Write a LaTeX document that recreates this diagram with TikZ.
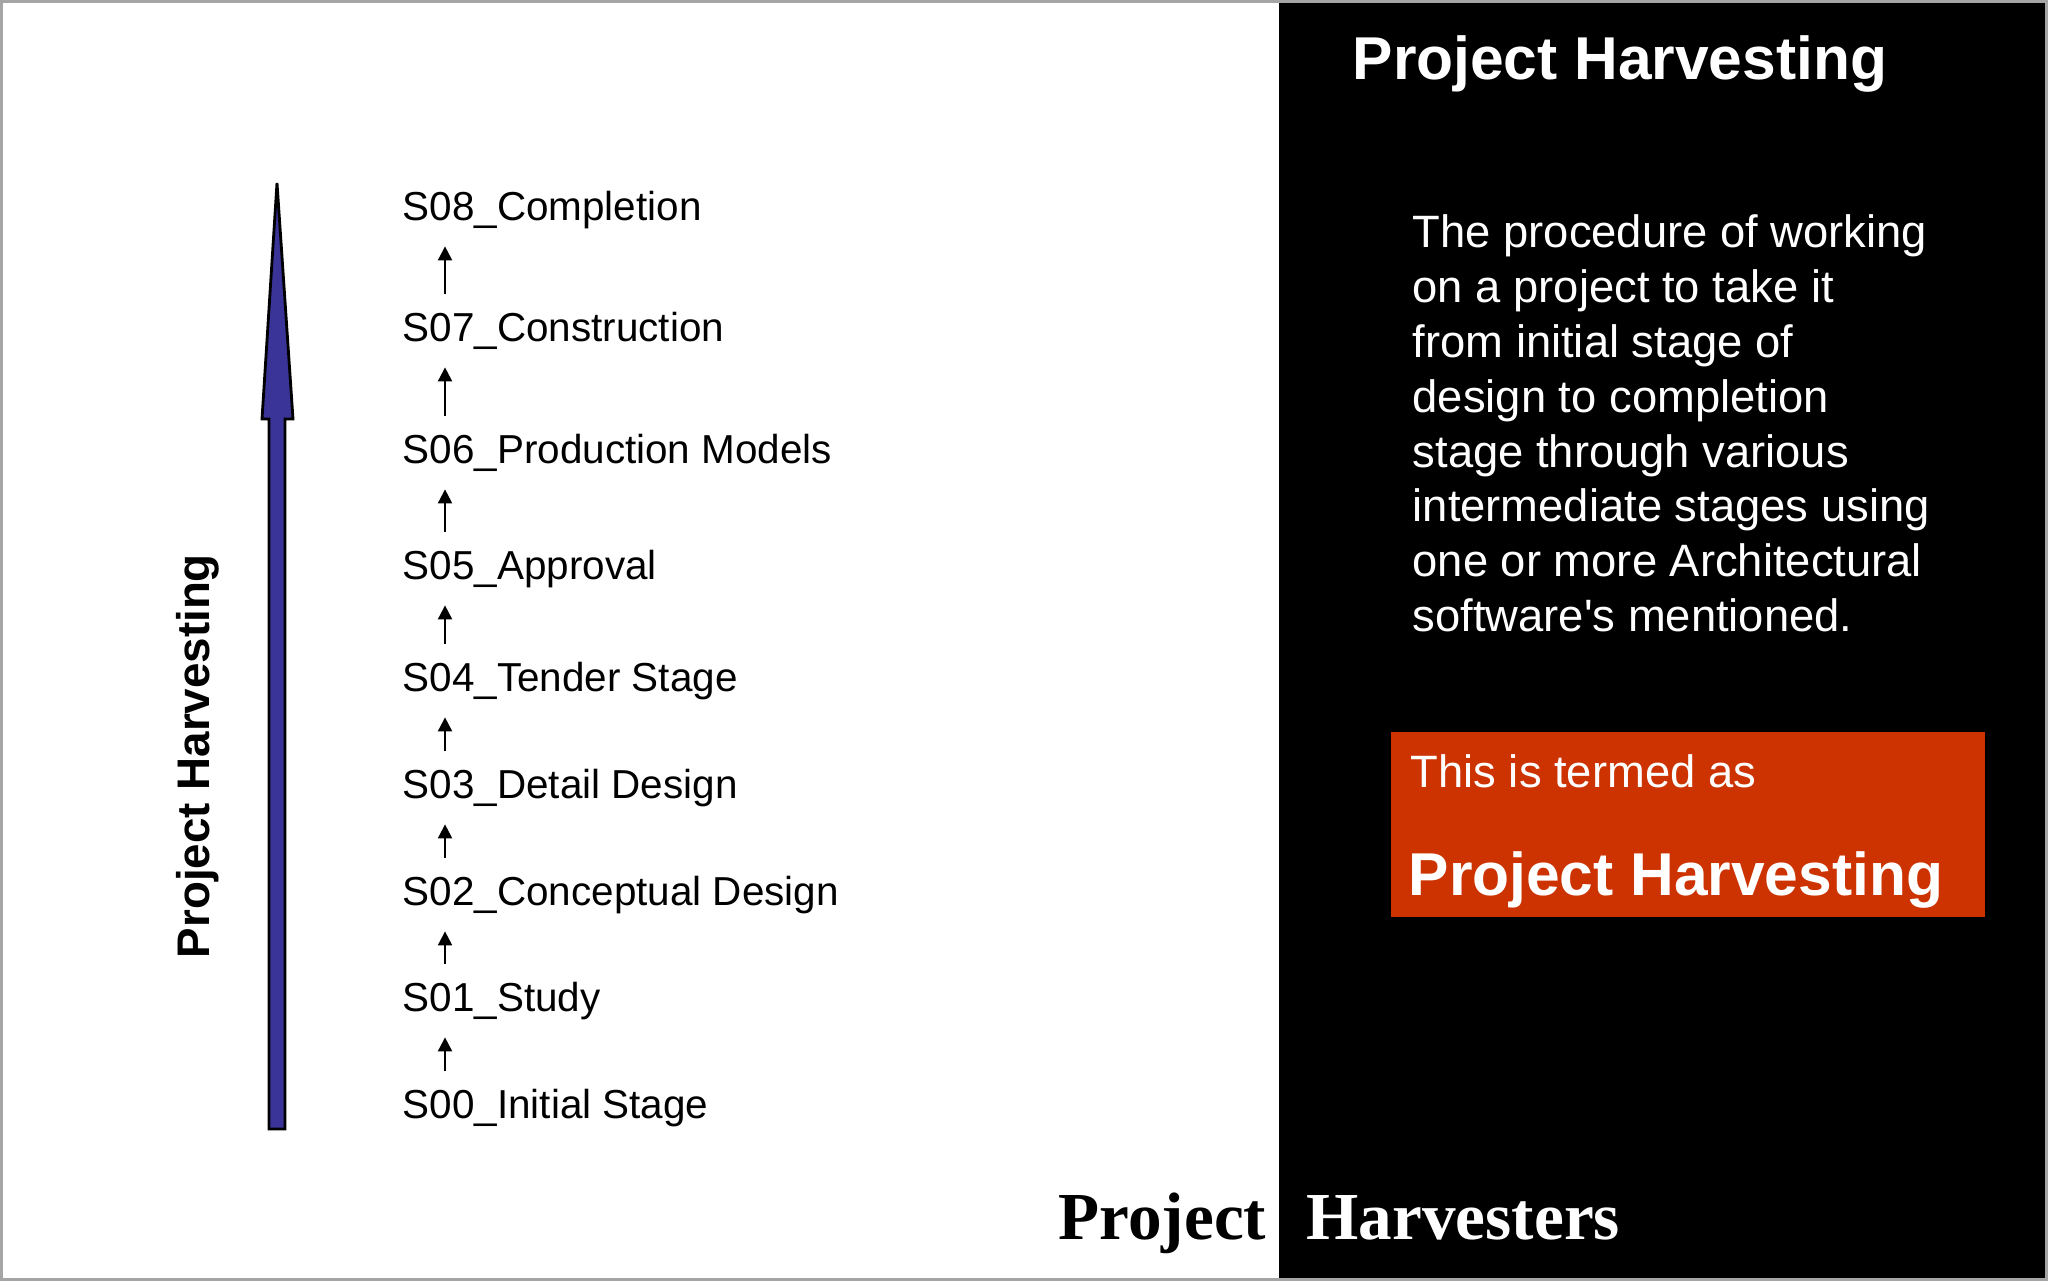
\documentclass[tikz,border=0pt]{standalone}
\usepackage{fontspec}
\setmainfont{Liberation Sans}
\newfontfamily\timesfont{Liberation Serif}
\usetikzlibrary{arrows.meta}

\definecolor{harvestblue}{RGB}{59,52,152}
\definecolor{termorange}{RGB}{204,51,0}
\definecolor{framegray}{RGB}{165,165,165}

\tikzset{
    capline/.style={inner sep=0pt, text height=0.72em, text depth=0pt, anchor=west},
    stage/.style={capline, font=\fontsize{11.5}{13}\selectfont},
    stageline/.style={-{Triangle[width=1.4mm,length=1.4mm]}, line width=0.6pt,
        shorten <=2.2mm, shorten >=2.5mm},
    headline/.style={capline, text=white, font=\fontsize{17.2}{20}\selectfont\bfseries},
    bodytext/.style={inner sep=0pt, text=white, font=\fontsize{12.9}{15.6}\selectfont},
    brandline/.style={inner sep=0pt, text height=0.66em, text depth=0pt,
        font=\fontsize{19.1}{23}\timesfont\bfseries}
}

\begin{document}
\begin{tikzpicture}[x=0.01cm, y=-0.01cm, line join=miter]

        % Page and the black panel.
        \useasboundingbox (0,0) rectangle (2048,1281);
        \fill[white] (0,0) rectangle (2048,1281);
        \fill[black] (1279,0) rectangle (2048,1281);
        \draw[framegray, line width=0.85pt] (1.5,1.5) rectangle (2046.5,1279.5);

        % The big arrow and its label.
        \filldraw[fill=harvestblue, draw=black, line width=0.8pt]
            (269,1129) -- (269,419) -- (262,419) -- (277,183)
            -- (293,419) -- (285,419) -- (285,1129) -- cycle;
        \node (side) at (197,756) [rotate=90, inner sep=0pt, text height=0.72em,
            text depth=0pt, font=\fontsize{13}{15}\selectfont\bfseries]
            {Project Harvesting};

        % The stages, bottom to top.
        \node (s00) at (402,1106) [stage] {S00\_Initial Stage};
        \node (s01) at (402,999) [stage] {S01\_Study};
        \node (s02) at (402,893) [stage] {S02\_Conceptual Design};
        \node (s03) at (402,786) [stage] {S03\_Detail Design};
        \node (s04) at (402,679) [stage] {S04\_Tender Stage};
        \node (s05) at (402,567) [stage] {S05\_Approval};
        \node (s06) at (402,451) [stage] {S06\_Production Models};
        \node (s07) at (402,329) [stage] {S07\_Construction};
        \node (s08) at (402,208) [stage] {S08\_Completion};

        % Small arrows between the stages.
        \foreach \lo/\hi in {s00/s01, s01/s02, s02/s03, s03/s04,
                             s04/s05, s05/s06, s06/s07, s07/s08}
            \draw[stageline] ([xshift=4.3mm]\lo.north west)
                -- ([xshift=4.3mm]\hi.south west);

        % Right panel: title and explanation.
        \node (title) at (1352,67) [headline] {Project Harvesting};
        \node (about) at (1412,214) [bodytext, anchor=north west, align=left]
            {The procedure of working\\
             on a project to take it\\
             from initial stage of\\
             design to completion\\
             stage through various\\
             intermediate stages using\\
             one or more Architectural\\
             software\textquotesingle s mentioned.};

        % The orange box.
        \fill[termorange] (1391,732) rectangle (1985,917);
        \node (termed) at (1410,775) [capline, text=white,
            font=\fontsize{12.9}{15.6}\selectfont] {This is termed as};
        \node (term) at (1408,883) [headline] {Project Harvesting};

        % Name across the bottom.
        \node (brandl) at (1267,1228) [brandline, anchor=east, text=black] {Project};
        \node (brandr) at (1306,1228) [brandline, anchor=west, text=white] {Harvesters};
    \end{tikzpicture}
\end{document}
